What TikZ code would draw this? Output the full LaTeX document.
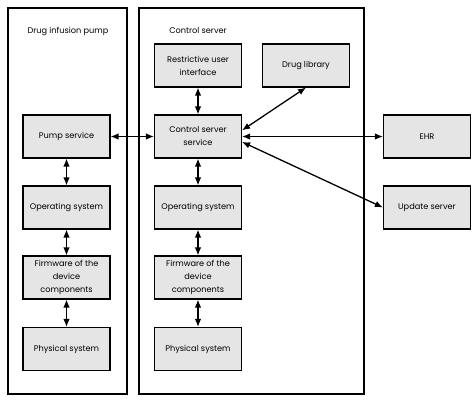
\documentclass[tikz,border=0pt]{standalone}
\usepackage{fontspec}
\setmainfont{Poppins}
\usetikzlibrary{arrows.meta}

\begin{document}
\begin{tikzpicture}[x=1pt,y=-1pt,>={Latex[length=8pt,width=6.5pt]},font=\fontsize{8.2}{13}\selectfont,
    layerBox/.style={draw,line width=1.1pt,fill=black!10,minimum width=87pt,minimum height=43pt,align=center,inner sep=2pt},
    containerBox/.style={draw,line width=1.1pt},
    link/.style={<->,line width=1.3pt}]
    \useasboundingbox (0,0) rectangle (474,401);

    % the two containers
    \draw[containerBox] (8,8) rectangle (127,394);
    \draw[containerBox] (139,8) rectangle (364,394);
    \node (pumpLabel) at (68,31) {Drug infusion pump};
    \node (serverLabel) at (198,31) {Control server};

    % drug infusion pump stack
    \node[layerBox] (pumpServiceNode) at (66.5,136.5) {Pump service};
    \node[layerBox] (pumpOsNode) at (66.5,207.5) {Operating system};
    \node[layerBox] (pumpFirmwareNode) at (66.5,277.5) {Firmware of the\\device\\components};
    \node[layerBox] (pumpPhysicalNode) at (66.5,349) {Physical system};

    % control server stack
    \node[layerBox] (userInterfaceNode) at (198,65.5) {Restrictive user\\interface};
    \node[layerBox] (serverServiceNode) at (198,136.5) {Control server\\service};
    \node[layerBox] (serverOsNode) at (198,207.5) {Operating system};
    \node[layerBox] (serverFirmwareNode) at (198,277.5) {Firmware of the\\device\\components};
    \node[layerBox] (serverPhysicalNode) at (198,349) {Physical system};

    % outside the stacks
    \node[layerBox] (drugLibraryNode) at (306,65.5) {Drug library};
    \node[layerBox] (ehrNode) at (427,136.5) {EHR};
    \node[layerBox] (updateServerNode) at (427,207.5) {Update server};

    \draw[link] (pumpServiceNode) -- (pumpOsNode);
    \draw[link] (pumpOsNode) -- (pumpFirmwareNode);
    \draw[link] (pumpFirmwareNode) -- (pumpPhysicalNode);

    \draw[link] (userInterfaceNode) -- (serverServiceNode);
    \draw[link] (serverServiceNode) -- (serverOsNode);
    \draw[link] (serverOsNode) -- (serverFirmwareNode);
    \draw[link] (serverFirmwareNode) -- (serverPhysicalNode);

    \draw[link] (pumpServiceNode.east) -- (serverServiceNode.west);
    \draw[link] (serverServiceNode.8) -- (drugLibraryNode.south);
    \draw[link] (serverServiceNode.east) -- (ehrNode.west);
    \draw[link] (serverServiceNode.-7) -- (updateServerNode.west);

\end{tikzpicture}
\end{document}
